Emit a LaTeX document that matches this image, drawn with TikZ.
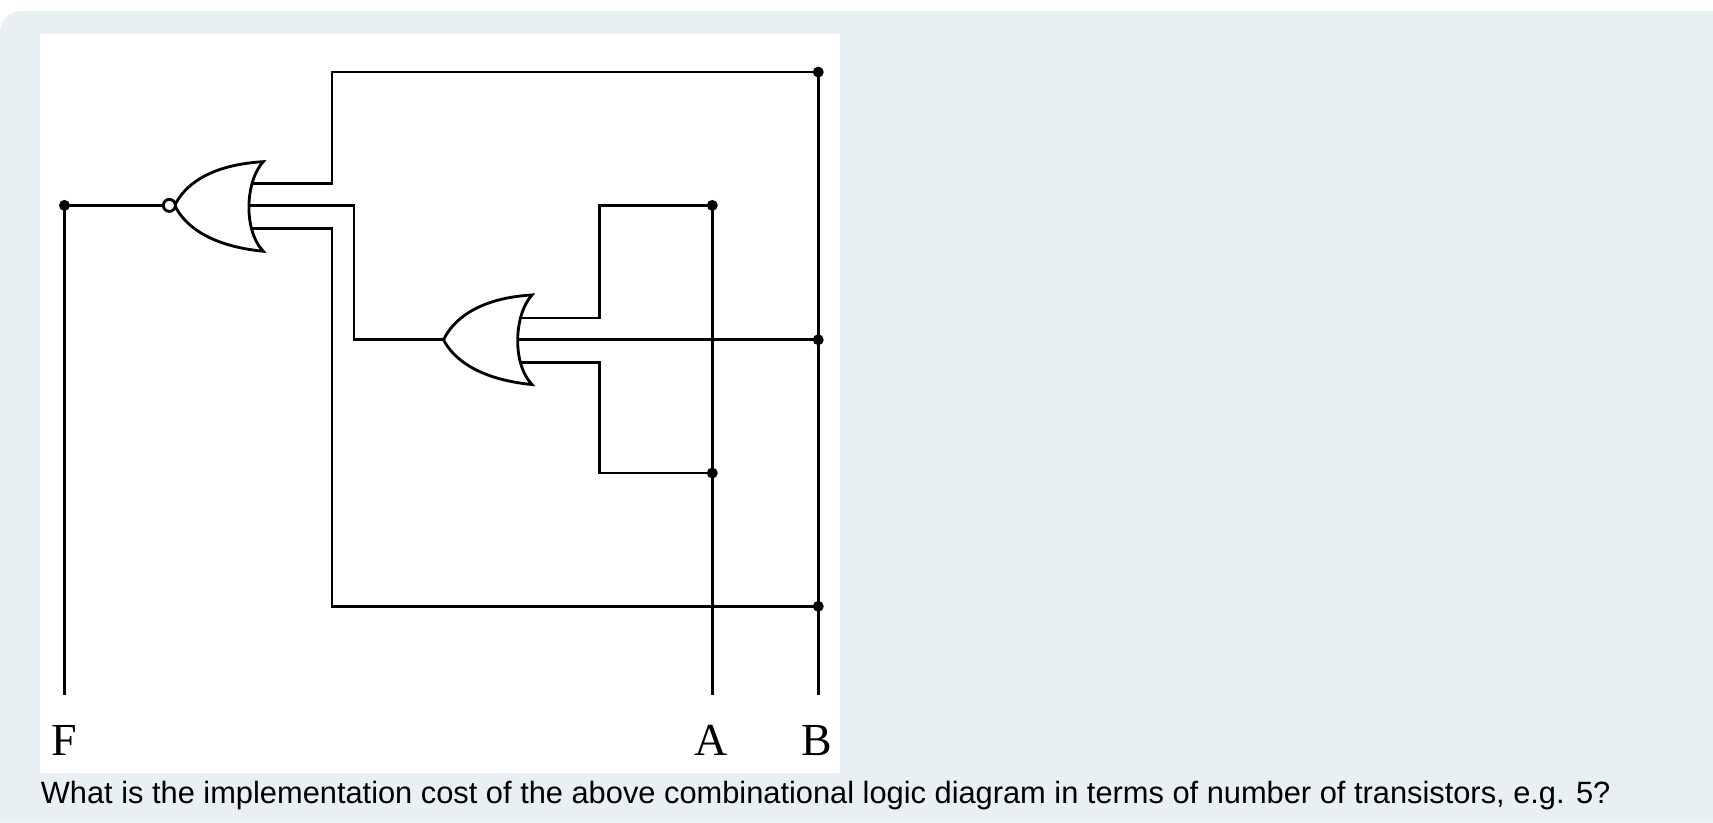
\documentclass[tikz,border=0pt]{standalone}
\usepackage{fontspec}
\setmainfont{Liberation Sans}
\newfontfamily\lblfont{Liberation Serif}
\begin{document}
\begin{tikzpicture}[x=0.5pt,y=-0.5pt,
  wire/.style={line width=1.2pt,line join=miter},
  gate/.style={line width=1.3pt,fill=white},
  dotc/.style={circle,fill=black,inner sep=0pt,minimum size=5pt},
  lbl/.style={inner sep=0pt}]
\useasboundingbox (0,0) rectangle (1568,753);
\fill[white] (0,0) rectangle (1568,753);
\fill[fill={rgb,255:red,232;green,240;blue,243}] (0,30) arc[start angle=180,end angle=270,radius=20] -- (1568,10) -- (1568,753) -- (0,753) -- cycle;
\fill[white] (37,31) rectangle (769,708);
% coordinates
\coordinate (Ftop) at (59,188);
\coordinate (Fbot) at (59,636);
\coordinate (Atop) at (652,188);
\coordinate (Amid) at (652,433);
\coordinate (Abot) at (652,636);
\coordinate (Btop) at (749,66);
\coordinate (Bm1) at (749,311);
\coordinate (Bm2) at (749,555);
\coordinate (Bbot) at (749,636);
% wires
\draw[wire] (Btop) -- (Bbot);
\draw[wire] (Atop) -- (Abot);
\draw[wire] (Fbot) -- (Ftop) -- (150,188);
\draw[wire] (Btop) -- (304,66) -- (304,168) -- (230,168);
\draw[wire] (228,188) -- (324,188) -- (324,311) -- (406,311);
\draw[wire] (230,209) -- (304,209) -- (304,555) -- (Bm2);
\draw[wire] (Atop) -- (549,188) -- (549,291) -- (475,291);
\draw[wire] (473,311) -- (Bm1);
\draw[wire] (475,332) -- (549,332) -- (549,433) -- (Amid);
% NOR gate
\draw[gate] (241,148) .. controls (225,165) and (222,210) .. (241,230)
  .. controls (190,225) and (168,205) .. (160,188)
  .. controls (168,171) and (190,151) .. cycle;
\draw[gate] (155,188) circle (5.5);
% OR gate
\draw[gate] (487,270) .. controls (471,287) and (468,332) .. (487,352)
  .. controls (436,347) and (414,327) .. (406,311)
  .. controls (414,294) and (436,273) .. cycle;
% dots
\foreach \p in {Ftop,Atop,Amid,Btop,Bm1,Bm2} \node[dotc] at (\p) {};
% labels
\node[lbl] (F) at (59,678) {\lblfont\fontsize{21}{21}\selectfont F};
\node[lbl] (A) at (651,678) {\lblfont\fontsize{21}{21}\selectfont A};
\node[lbl] (B) at (748,678) {\lblfont\fontsize{21}{21}\selectfont B};
\node[anchor=west,inner sep=0pt,font=\fontsize{14.1}{16}\selectfont] (q) at (37,728) {What is the implementation cost of the above combinational logic diagram in terms of number of transistors, e.g. 5?};
\end{tikzpicture}
\end{document}
